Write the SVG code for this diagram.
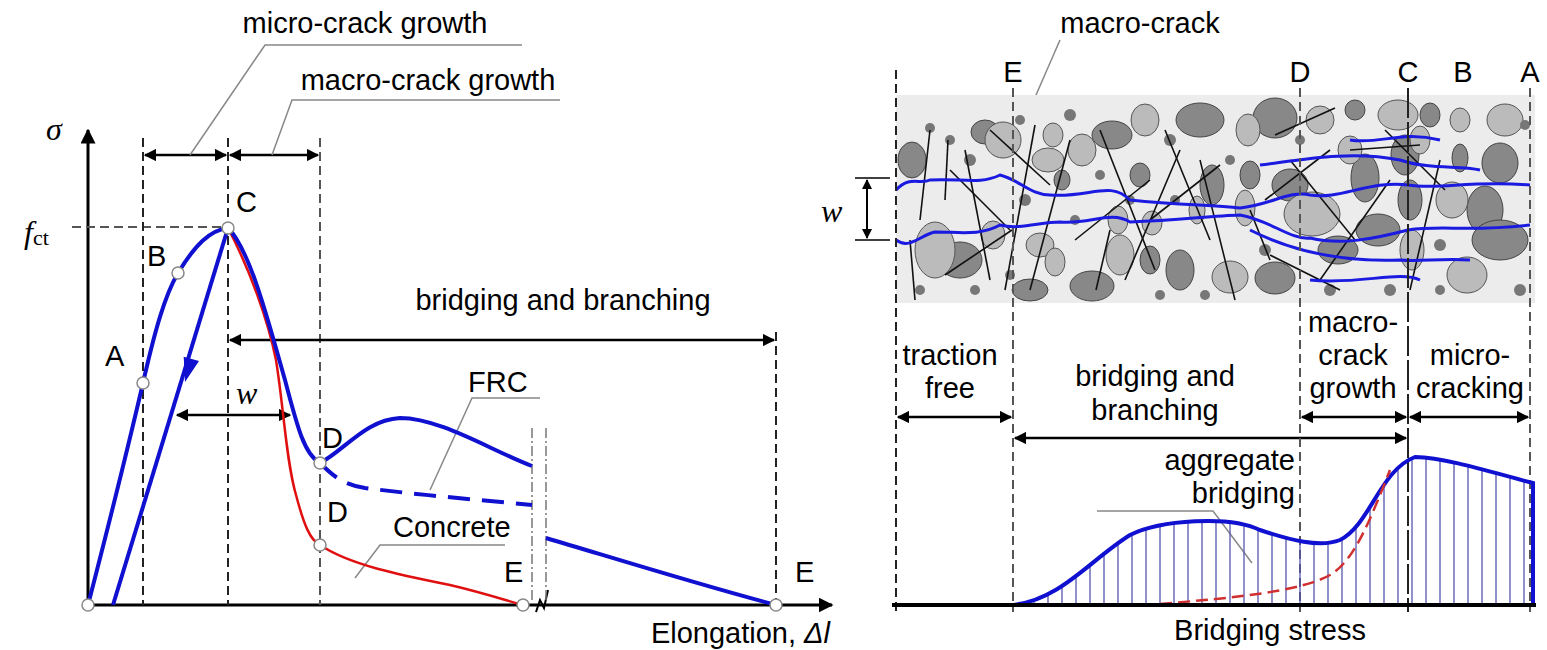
<svg xmlns="http://www.w3.org/2000/svg" width="1547" height="650" viewBox="0 0 1547 650">
<style>
.t{font-family:"Liberation Sans",Arial,sans-serif;font-size:29px;fill:#000}
.m{font-family:"Liberation Serif","Times New Roman",serif;font-style:italic;font-size:32px;fill:#000}
.dash{stroke:#555;stroke-width:2;stroke-dasharray:9,5;fill:none}
.dashk{stroke:#222;stroke-width:2;stroke-dasharray:9,5;fill:none}
.ld{stroke:#888;stroke-width:1.5;fill:none}
.arr{stroke:#000;stroke-width:2.5;fill:none;marker-start:url(#ah);marker-end:url(#ah)}
.blue{stroke:#1010d0;stroke-width:4;fill:none}
.red{stroke:#e01010;stroke-width:2.5;fill:none}
.pt{fill:#fff;stroke:#888;stroke-width:1.5}
.ag1{fill:#888;stroke:#444;stroke-width:1}
.ag2{fill:#bbb;stroke:#555;stroke-width:1}
.fib{stroke:#111;stroke-width:1.6;fill:none}
.ck{stroke:#1a1ae0;stroke-width:3;fill:none}
</style>
<defs>
<marker id="ah" viewBox="0 0 10 10" refX="9" refY="5" markerWidth="5" markerHeight="5" orient="auto-start-reverse"><path d="M0,0L10,5L0,10z" fill="#000"/></marker>
<marker id="ax" viewBox="0 0 10 10" refX="9" refY="5" markerWidth="5" markerHeight="5" orient="auto"><path d="M0,0L10,5L0,10z" fill="#000"/></marker>
<clipPath id="cp"><path d="M1013,605 C1060,600 1090,560 1130,535 C1160,520 1230,515 1260,530 C1290,540 1320,548 1340,540 C1370,525 1380,470 1415,457 C1450,458 1500,475 1533,483 L1533,605 Z"/></clipPath>
</defs>
<rect width="1547" height="650" fill="#fff"/>

<g id="left-axes">
<line x1="88" y1="605" x2="88" y2="130" stroke="#000" stroke-width="3" marker-end="url(#ax)"/>
<line x1="88" y1="605" x2="832" y2="605" stroke="#000" stroke-width="3" marker-end="url(#ax)"/>
<path d="M536,612 L540,600 L544,608 L548,590" stroke="#000" stroke-width="2" fill="none"/>
<text class="m" x="46" y="140">σ</text>
<text class="m" x="24" y="243">f<tspan font-size="22" font-style="normal" dy="2">ct</tspan></text>
<text class="t" x="830" y="643" text-anchor="end">Elongation, <tspan font-style="italic">Δl</tspan></text>
</g>

<g id="left-guides">
<line class="dash" x1="72" y1="227" x2="228" y2="227"/>
<line class="dashk" x1="143" y1="138" x2="143" y2="605"/>
<line class="dashk" x1="228" y1="138" x2="228" y2="605"/>
<line class="dash" x1="320" y1="138" x2="320" y2="605"/>
<line class="dashk" x1="776" y1="332" x2="776" y2="605"/>
<line stroke="#777" stroke-width="1.5" stroke-dasharray="10,3,2,3" x1="532" y1="428" x2="532" y2="600"/>
<line stroke="#777" stroke-width="1.5" stroke-dasharray="10,3,2,3" x1="546" y1="428" x2="546" y2="600"/>
</g>

<g id="connectors">
<line class="arr" x1="145" y1="155" x2="226" y2="155"/>
<line class="arr" x1="230" y1="155" x2="318" y2="155"/>
<line class="arr" x1="230" y1="340" x2="774" y2="340"/>
<line class="arr" x1="177" y1="415" x2="290" y2="415"/>
<line class="arr" x1="898" y1="417" x2="1011" y2="417"/>
<line class="arr" x1="1015" y1="438" x2="1406" y2="438"/>
<line class="arr" x1="1302" y1="417" x2="1406" y2="417"/>
<line class="arr" x1="1410" y1="417" x2="1528" y2="417"/>
<path class="ld" d="M522,45 H265 L190,155"/>
<path class="ld" d="M560,100 H292 L272,155"/>
<path class="ld" d="M540,398 H472 L430,490"/>
<path class="ld" d="M505,545 H380 L355,578"/>
<path class="ld" d="M1060,40 L1012,150"/>
<path class="ld" d="M1097,511 H1213 L1252,563"/>
<line x1="867" y1="180" x2="867" y2="238" stroke="#000" stroke-width="2" marker-start="url(#ah)" marker-end="url(#ah)"/>
<line x1="855" y1="178" x2="890" y2="178" stroke="#000" stroke-width="1.5"/>
<line x1="855" y1="240" x2="890" y2="240" stroke="#000" stroke-width="1.5"/>
</g>

<g id="left-curves">
<path class="red" d="M228,228 C250,270 268,320 276,360 C284,410 286,460 296,495 C304,525 310,540 320,545 C350,565 400,575 450,585 C480,592 505,600 523,605"/>
<path class="blue" d="M88,605 C110,520 125,460 143,383 C155,330 165,295 178,273 C195,245 210,230 228,228 C250,250 268,320 285,380 C298,430 305,455 320,463 C345,450 365,420 400,418 C440,418 490,450 532,466"/>
<path class="blue" stroke-dasharray="22,12" d="M320,463 C335,478 345,485 365,488 C420,495 480,500 532,505"/>
<path class="blue" d="M546,538 C620,560 700,585 776,605"/>
<path class="blue" stroke-width="3" d="M228,228 L113,605"/>
<path d="M185,382 L199,361 L183.7,356.7 Z" fill="#1010d0"/>
<circle class="pt" cx="88" cy="605" r="6"/>
<circle class="pt" cx="143" cy="383" r="6"/>
<circle class="pt" cx="178" cy="273" r="6"/>
<circle class="pt" cx="228" cy="228" r="6"/>
<circle class="pt" cx="320" cy="463" r="6"/>
<circle class="pt" cx="320" cy="545" r="6"/>
<circle class="pt" cx="523" cy="605" r="6"/>
<circle class="pt" cx="776" cy="605" r="6"/>
</g>

<g id="left-labels">
<text class="t" x="365" y="33" text-anchor="middle">micro-crack growth</text>
<text class="t" x="428" y="90" text-anchor="middle">macro-crack growth</text>
<text class="t" x="563" y="310" text-anchor="middle">bridging and branching</text>
<text class="m" x="236" y="404">w</text>
<text class="t" x="468" y="392">FRC</text>
<text class="t" x="393" y="537">Concrete</text>
<text class="t" x="105" y="366">A</text>
<text class="t" x="147" y="266">B</text>
<text class="t" x="236" y="212">C</text>
<text class="t" x="322" y="448">D</text>
<text class="t" x="327" y="522">D</text>
<text class="t" x="504" y="582">E</text>
<text class="t" x="795" y="582">E</text>
</g>

<g id="strip">
<rect x="896" y="95" width="639" height="208" fill="#ececec"/>
<g class="ag1">
<ellipse cx="912" cy="160" rx="14" ry="18"/><ellipse cx="960" cy="260" rx="22" ry="18"/><ellipse cx="985" cy="132" rx="14" ry="12"/>
<ellipse cx="1030" cy="290" rx="18" ry="11"/><ellipse cx="1092" cy="286" rx="22" ry="15"/><ellipse cx="1112" cy="135" rx="20" ry="14"/>
<ellipse cx="1200" cy="120" rx="24" ry="17"/><ellipse cx="1212" cy="185" rx="12" ry="20"/><ellipse cx="1250" cy="175" rx="10" ry="14"/>
<ellipse cx="1180" cy="270" rx="14" ry="20"/><ellipse cx="1275" cy="118" rx="22" ry="20"/><ellipse cx="1275" cy="278" rx="20" ry="16"/>
<ellipse cx="1290" cy="185" rx="18" ry="16"/><ellipse cx="1365" cy="178" rx="14" ry="24"/><ellipse cx="1405" cy="155" rx="14" ry="20"/>
<ellipse cx="1410" cy="200" rx="12" ry="20"/><ellipse cx="1378" cy="230" rx="22" ry="16"/><ellipse cx="1338" cy="250" rx="20" ry="14"/>
<ellipse cx="1485" cy="210" rx="18" ry="24"/><ellipse cx="1500" cy="163" rx="18" ry="20"/><ellipse cx="1500" cy="240" rx="28" ry="20"/>
<ellipse cx="1460" cy="158" rx="8" ry="14"/><ellipse cx="1150" cy="260" rx="10" ry="14"/><ellipse cx="1062" cy="180" rx="8" ry="10"/>
<ellipse cx="1140" cy="175" rx="10" ry="12"/><ellipse cx="1355" cy="110" rx="10" ry="10"/><ellipse cx="1430" cy="115" rx="10" ry="12"/>
</g>
<g class="ag2">
<ellipse cx="935" cy="250" rx="20" ry="28"/><ellipse cx="1003" cy="140" rx="18" ry="18"/><ellipse cx="993" cy="235" rx="12" ry="14"/>
<ellipse cx="1040" cy="245" rx="14" ry="12"/><ellipse cx="1053" cy="135" rx="10" ry="12"/><ellipse cx="1055" cy="262" rx="10" ry="14"/>
<ellipse cx="1082" cy="150" rx="14" ry="16"/><ellipse cx="1048" cy="160" rx="16" ry="12"/><ellipse cx="1118" cy="220" rx="10" ry="14"/>
<ellipse cx="1120" cy="255" rx="14" ry="20"/><ellipse cx="1145" cy="120" rx="14" ry="16"/><ellipse cx="1152" cy="223" rx="10" ry="12"/>
<ellipse cx="1230" cy="277" rx="18" ry="16"/><ellipse cx="1245" cy="208" rx="10" ry="18"/><ellipse cx="1312" cy="214" rx="28" ry="22"/>
<ellipse cx="1248" cy="130" rx="12" ry="16"/><ellipse cx="1320" cy="120" rx="14" ry="14"/><ellipse cx="1398" cy="115" rx="20" ry="15"/>
<ellipse cx="1452" cy="200" rx="16" ry="18"/><ellipse cx="1412" cy="250" rx="12" ry="20"/><ellipse cx="1420" cy="140" rx="10" ry="14"/>
<ellipse cx="1467" cy="275" rx="20" ry="18"/><ellipse cx="1505" cy="120" rx="18" ry="16"/><ellipse cx="1197" cy="210" rx="8" ry="14"/>
<ellipse cx="1460" cy="120" rx="10" ry="12"/><ellipse cx="1350" cy="150" rx="12" ry="14"/>
</g>
<g fill="#777">
<circle cx="930" cy="128" r="5"/><circle cx="950" cy="140" r="5"/><circle cx="970" cy="160" r="6"/><circle cx="1020" cy="120" r="5"/><circle cx="1025" cy="200" r="6"/>
<circle cx="1070" cy="115" r="6"/><circle cx="1100" cy="175" r="5"/><circle cx="1170" cy="140" r="6"/><circle cx="1175" cy="200" r="5"/><circle cx="1230" cy="160" r="5"/>
<circle cx="1265" cy="250" r="6"/><circle cx="1300" cy="140" r="5"/><circle cx="1330" cy="290" r="6"/><circle cx="1390" cy="290" r="6"/><circle cx="1440" cy="245" r="6"/>
<circle cx="1520" cy="290" r="6"/><circle cx="1010" cy="275" r="5"/><circle cx="1075" cy="220" r="5"/><circle cx="1160" cy="295" r="5"/><circle cx="1205" cy="295" r="5"/>
<circle cx="920" cy="290" r="5"/><circle cx="975" cy="290" r="5"/><circle cx="1130" cy="200" r="5"/><circle cx="1440" cy="290" r="5"/><circle cx="1525" cy="125" r="5"/>
</g>
<g class="fib">
<path d="M910,240 L915,300"/><path d="M930,130 L920,220"/><path d="M948,140 L945,200"/><path d="M950,170 L1010,230"/><path d="M965,150 L990,280"/>
<path d="M945,275 L1012,230"/><path d="M1035,125 L1005,290"/><path d="M990,130 L1050,185"/><path d="M1070,140 L1030,290"/><path d="M1100,130 L1155,270"/>
<path d="M1150,180 L1075,240"/><path d="M1180,150 L1125,280"/><path d="M1165,130 L1210,240"/><path d="M1220,165 L1150,220"/><path d="M1200,160 L1235,300"/>
<path d="M1250,210 L1270,260"/><path d="M1275,135 L1335,108"/><path d="M1290,160 L1355,240"/><path d="M1270,255 L1340,290"/><path d="M1320,280 L1390,180"/>
<path d="M1350,150 L1420,145"/><path d="M1385,130 L1445,190"/><path d="M1440,160 L1410,290"/><path d="M1265,200 L1330,150"/><path d="M1096,290 L1110,230"/>
</g>
<path class="ck" d="M896,190 C910,175 920,185 930,180 C960,178 980,185 1000,175 C1020,180 1030,195 1050,195 C1090,198 1110,180 1130,200 C1180,205 1210,205 1240,208 C1270,205 1290,190 1310,195 C1340,200 1370,180 1408,185 C1440,190 1470,180 1530,185"/>
<path class="ck" d="M896,240 C910,250 920,235 935,232 C960,232 980,236 1000,225 C1020,230 1040,222 1060,222 C1090,225 1110,210 1130,222 C1180,220 1210,216 1240,215 C1270,220 1290,240 1310,238 C1340,245 1370,240 1408,230 C1440,225 1470,232 1530,225"/>
<path class="ck" stroke-width="2" d="M1260,165 C1300,160 1350,150 1400,160 C1430,170 1460,165 1480,170"/>
<path class="ck" stroke-width="2" d="M1250,230 C1300,255 1350,262 1400,260 C1420,262 1440,258 1470,260"/>
<path class="ck" stroke-width="2" d="M1350,140 C1380,145 1400,130 1440,140"/>
<path class="ck" stroke-width="2" d="M1310,280 C1360,285 1400,270 1420,280"/>
</g>

<g id="right-guides">
<line class="dashk" x1="896" y1="70" x2="896" y2="612"/>
<line class="dash" x1="1013" y1="88" x2="1013" y2="612"/>
<line class="dash" x1="1300" y1="88" x2="1300" y2="612"/>
<line x1="1408" y1="88" x2="1408" y2="612" stroke="#222" stroke-width="2" stroke-dasharray="30,4"/>
<line class="dash" x1="1530" y1="88" x2="1530" y2="612"/>
</g>

<g id="right-chart">
<g clip-path="url(#cp)" stroke="#5555b0" stroke-width="1.3">
<path d="M1020,440V605M1034,440V605M1048,440V605M1062,440V605M1076,440V605M1090,440V605M1104,440V605M1118,440V605M1132,440V605M1146,440V605M1160,440V605M1174,440V605M1188,440V605M1202,440V605M1216,440V605M1230,440V605M1244,440V605M1258,440V605M1272,440V605M1286,440V605M1300,440V605M1314,440V605M1328,440V605M1342,440V605M1356,440V605M1370,440V605M1384,440V605M1398,440V605M1412,440V605M1426,440V605M1440,440V605M1454,440V605M1468,440V605M1482,440V605M1496,440V605M1510,440V605M1524,440V605"/>
</g>
<path class="blue" stroke-width="3.5" d="M1013,605 C1060,600 1090,560 1130,535 C1160,520 1230,515 1260,530 C1290,540 1320,548 1340,540 C1370,525 1380,470 1415,457 C1450,458 1500,475 1533,483 L1533,605"/>
<path d="M1160,604 C1230,598 1300,592 1330,575 C1355,560 1370,520 1390,470" stroke="#d03030" stroke-width="2.5" stroke-dasharray="12,6" fill="none"/>
<line x1="892" y1="605" x2="1536" y2="605" stroke="#000" stroke-width="4"/>
</g>

<g id="right-labels">
<text class="t" x="1140" y="33" text-anchor="middle">macro-crack</text>
<text class="t" x="1013" y="82" text-anchor="middle">E</text>
<text class="t" x="1300" y="82" text-anchor="middle">D</text>
<text class="t" x="1408" y="82" text-anchor="middle">C</text>
<text class="t" x="1463" y="82" text-anchor="middle">B</text>
<text class="t" x="1530" y="82" text-anchor="middle">A</text>
<text class="m" x="821" y="222">w</text>
<text class="t" x="950" y="365" text-anchor="middle">traction</text>
<text class="t" x="950" y="398" text-anchor="middle">free</text>
<text class="t" x="1155" y="386" text-anchor="middle">bridging and</text>
<text class="t" x="1155" y="420" text-anchor="middle">branching</text>
<text class="t" x="1353" y="332" text-anchor="middle">macro-</text>
<text class="t" x="1353" y="365" text-anchor="middle">crack</text>
<text class="t" x="1353" y="398" text-anchor="middle">growth</text>
<text class="t" x="1470" y="365" text-anchor="middle">micro-</text>
<text class="t" x="1470" y="398" text-anchor="middle">cracking</text>
<text class="t" x="1295" y="470" text-anchor="end">aggregate</text>
<text class="t" x="1295" y="503" text-anchor="end">bridging</text>
<text class="t" x="1270" y="640" text-anchor="middle">Bridging stress</text>
</g>
</svg>
